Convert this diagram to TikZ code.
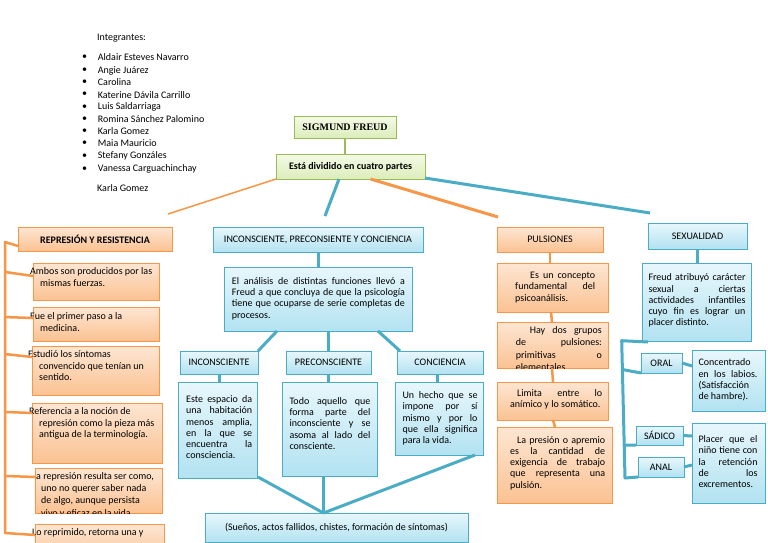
\documentclass[tikz,border=0pt]{standalone}
\usepackage{fontspec}
\setmainfont{Carlito}
\newfontfamily\titleserif{Liberation Serif}
\usetikzlibrary{calc}
\definecolor{oB}{HTML}{F79646}
\definecolor{oT}{HTML}{FDE6D3}
\definecolor{oBt}{HTML}{FBC292}
\definecolor{bB}{HTML}{4BACC6}
\definecolor{bT}{HTML}{E8F7FC}
\definecolor{bBt}{HTML}{B2E2F1}
\definecolor{gB}{HTML}{9BBB59}
\definecolor{gT}{HTML}{F4FAE6}
\definecolor{gBt}{HTML}{DCEDBB}
\newcommand\fs{\fontsize{10}{11.3}\selectfont}
\newcommand\fsl{\fontsize{10}{11.6}\selectfont}
\newcommand\fsw{\fontsize{10}{12.2}\selectfont}
\tikzset{
  base/.style={inner sep=0pt, outer sep=0pt, anchor=north west, line width=1pt, font=\fs},
  obox/.style={base, draw=oB, top color=oT, bottom color=oBt},
  bbox/.style={base, draw=bB, top color=bT, bottom color=bBt},
  gbox/.style={base, draw=gB, top color=gT, bottom color=gBt},
  ptxt/.style={inner sep=0pt, anchor=north west, align=justify, font=\fs},
  ltxt/.style={inner sep=0pt, anchor=north west, align=left, font=\fsl},
  lbl/.style={inner sep=0pt, anchor=west, font=\fs},
  bcon/.style={draw=bB, line width=3pt},
  ocon/.style={draw=oB, line width=2.5pt, line join=round},
  gcon/.style={draw=gB, line width=1.5pt},
}
\begin{document}
\begin{tikzpicture}[x=1pt, y=-1pt]
\clip (0,0) rectangle (768,543);
\fill[white] (0,0) rectangle (768,543);

% ---------- team list ----------
\node[lbl] (integ) at (97,38.3) {Integrantes:};
\foreach \n/\yy/\name in {1/57.3/Aldair Esteves Navarro, 2/70.5/Angie Juárez, 3/82.3/Carolina,
  4/94.7/Katerine Dávila Carrillo, 5/107/Luis Saldarriaga, 6/119/Romina Sánchez Palomino,
  7/131.3/Karla Gomez, 8/143.3/Maia Mauricio, 9/156.3/Stefany Gonzáles, 10/169/Vanessa Carguachinchay}{
  \node[inner sep=0pt, font=\fs] (b\n) at (84.5,\yy) {\textbullet};
  \node[lbl] (m\n) at (97.7,\yy) {\name};
}
\node[lbl] (karla) at (97,187.7) {Karla Gomez};

% ---------- top ----------
\node[gbox, minimum width=102pt, minimum height=22pt, font=\titleserif\bfseries\fontsize{10}{12}\selectfont] (sf) at (294,116) {SIGMUND FREUD};
\node[gbox, minimum width=149pt, minimum height=25pt, font=\fs\bfseries] (esta) at (276,154) {Está dividido en cuatro partes};
\draw[gcon] (sf.south) -- (sf.south |- esta.north);

\coordinate (e1) at (168,214);
\coordinate (e2) at (325,216);
\coordinate (e3) at (498,217);
\coordinate (e4) at (650,213);
\draw[draw=oB, line width=1.5pt] (esta.south west) -- (e1);
\draw[bcon] ($(esta.south)+(-11.5,0)$) -- (e2);
\draw[draw=oB, line width=3pt] ($(esta.south)+(20,0)$) -- (e3);
\draw[bcon] ($(esta.south east)+(0,-1)$) -- (e4);

% ---------- left: represion ----------
\node[obox, minimum width=154pt, minimum height=24pt, font=\fs\bfseries] (rep) at (18,227) {REPRESIÓN Y RESISTENCIA};
\node[obox, minimum width=126pt, minimum height=37pt] (ambos) at (33,263) {};
\node[obox, minimum width=126pt, minimum height=34pt] (fue) at (33,307) {};
\node[obox, minimum width=127pt, minimum height=49pt] (estudio) at (32,346) {};
\node[obox, minimum width=130pt, minimum height=60pt] (refer) at (32,403) {};
\node[obox, minimum width=127pt, minimum height=45pt] (arep) at (35,468) {};
\node[obox, minimum width=129pt, minimum height=40pt] (reprim) at (35,524) {};

\node[ltxt] (ambosT) at (30,267.3) {Ambos son producidos por las\\\hspace*{10pt}mismas fuerzas.};
\node[ltxt] (fueT) at (30,312.3) {Fue el primer paso a la\\\hspace*{10pt}medicina.};
\node[ltxt] (estudioT) at (28,350.3) {Estudió los síntomas\\\hspace*{11pt}convencido que tenían un\\\hspace*{11pt}sentido.};
\node[ltxt] (referT) at (29,407.3) {Referencia a la noción de\\\hspace*{10pt}represión como la pieza más\\\hspace*{10pt}antigua de la terminología.};
\begin{scope}
\clip (arep.north west) rectangle (arep.south east);
\node[ltxt, font=\fsw] (arepT) at (36,472.3) {a represión resulta ser como,\\\hspace*{5pt}uno no querer saber nada\\\hspace*{5pt}de algo, aunque persista\\\hspace*{5pt}vivo y eficaz en la vida.};
\end{scope}
\node[ltxt] (reprimT) at (32,528.3) {Lo reprimido, retorna una y};

\coordinate (lt) at (5,242);
\coordinate (lb) at (5,533);
\draw[ocon] ($(rep.south west)+(0,-5)$) -- (lt) -- (lb) -- ($(reprim.north west)+(0,11)$);
\draw[ocon] ($(lt)!0.103!(lb)$) -- ($(ambos.north west)+(0,13)$);
\draw[ocon] ($(lt)!0.258!(lb)$) -- ($(fue.north west)+(0,11)$);
\draw[ocon] ($(lt)!0.385!(lb)$) -- ($(estudio.north west)+(0,11)$);
\draw[ocon] ($(lt)!0.584!(lb)$) -- ($(refer.north west)+(0,10)$);
\draw[ocon] ($(lt)!0.804!(lb)$) -- ($(arep.north west)+(0,9)$);

% ---------- middle ----------
\node[bbox, minimum width=210pt, minimum height=25pt] (icpc) at (213,227) {INCONSCIENTE, PRECONSIENTE Y CONCIENCIA};
\node[bbox, minimum width=188pt, minimum height=64pt] (analisis) at (224,267) {};
\node[ptxt, text width=173pt] (analisisT) at (231.7,277) {El análisis de distintas funciones llevó a\linebreak Freud a que concluya de que la psicología\linebreak tiene que ocuparse de serie completas de\linebreak procesos.};
\node[bbox, minimum width=78pt, minimum height=23pt] (inc) at (180,351) {INCONSCIENTE};
\node[bbox, minimum width=85pt, minimum height=23pt] (pre) at (286,351) {PRECONSCIENTE};
\node[bbox, minimum width=86pt, minimum height=23pt] (con) at (397,351) {CONCIENCIA};
\node[bbox, minimum width=79pt, minimum height=96pt] (inct) at (178,382) {};
\node[bbox, minimum width=95pt, minimum height=94pt] (pret) at (282,382) {};
\node[bbox, minimum width=88pt, minimum height=73pt] (cont) at (395,382) {};
\node[ptxt, text width=66pt] (inctT) at (186,395.3) {Este espacio da\linebreak una habitación\linebreak menos amplia,\linebreak en la que se\linebreak encuentra la\linebreak consciencia.};
\node[ptxt, text width=81pt] (pretT) at (289.3,397) {Todo aquello que\linebreak forma parte del\linebreak inconsciente y se\linebreak asoma al lado del\linebreak consciente.};
\node[ptxt, text width=75pt] (contT) at (402.3,391.3) {Un hecho que se\linebreak impone por sí\linebreak mismo y por lo\linebreak que ella significa\linebreak para la vida.};
\node[bbox, minimum width=263pt, minimum height=29pt] (suenos) at (205,513) {(Sueños, actos fallidos, chistes, formación de síntomas)};

\draw[bcon] (icpc.south) -- (analisis.north);
\draw[bcon] ($(analisis.south west)+(53,0)$) -- (inc.north east);
\draw[bcon] (pre.north |- analisis.south) -- (pre.north);
\draw[bcon] ($(analisis.south east)+(-34,0)$) -- ($(con.north west)+(3,0)$);
\draw[bcon] (inc.south) -- (inc.south |- inct.north);
\draw[bcon] (pre.south) -- (pre.south |- pret.north);
\draw[bcon] ($(con.south)+(-3,0)$) -- ($(con.south |- cont.north)+(-3,0)$);
\coordinate (sj) at ($(suenos.north)+(-13,0)$);
\draw[bcon] ($(inct.south east)+(1,-1)$) -- (sj);
\draw[bcon] ($(pret.south)+(-6,0)$) -- (sj);
\draw[bcon] ($(cont.south east)+(-8,0)$) -- (sj);

% ---------- pulsiones ----------
\node[obox, minimum width=106pt, minimum height=25pt] (pul) at (497,227) {PULSIONES};
\node[obox, minimum width=111pt, minimum height=49pt] (es) at (497,263) {};
\node[obox, minimum width=111pt, minimum height=46pt] (hay) at (497,322) {};
\node[obox, minimum width=111pt, minimum height=38pt] (lim) at (497,382) {};
\node[obox, minimum width=115pt, minimum height=76pt] (pres) at (497,427) {};
\node[ptxt, text width=80pt] (esT) at (515,272) {\hspace*{15pt}Es un concepto\linebreak fundamental del\linebreak psicoanálisis.};
\begin{scope}
\clip (hay.north west) rectangle (hay.south east);
\node[ptxt, text width=86pt, font=\fsw] (hayT) at (515.7,326.5) {\hspace*{14pt}Hay dos grupos\linebreak de pulsiones:\linebreak primitivas o\linebreak elementales};
\end{scope}
\node[ptxt, text width=92pt] (limT) at (510,389.3) {\hspace*{7pt}Limita entre lo\linebreak anímico y lo somático.};
\node[ptxt, text width=95pt] (presT) at (510,436) {\hspace*{7pt}La presión o apremio\linebreak es la cantidad de\linebreak exigencia de trabajo\linebreak que representa una\linebreak pulsión.};
\draw[ocon] (pul.south) -- (pul.south |- es.north);
\draw[ocon] ($(pul.south |- es.south)+(1,0)$) -- ($(pul.south |- hay.north)+(2,0)$);
\draw[ocon] ($(pul.south |- hay.south)+(2,0)$) -- ($(pul.south |- lim.north)+(3,0)$);
\draw[ocon] ($(pul.south |- lim.south)+(3,0)$) -- ($(pul.south |- pres.north)+(5,0)$);

% ---------- sexualidad ----------
\node[bbox, minimum width=99pt, minimum height=26pt] (sex) at (648,223) {SEXUALIDAD};
\node[bbox, minimum width=109pt, minimum height=78pt] (freud) at (642,263) {};
\node[ptxt, text width=97pt] (freudT) at (648.3,273.6) {Freud atribuyó carácter\linebreak sexual a ciertas\linebreak actividades infantiles\linebreak cuyo fin es lograr un\linebreak placer distinto.};
\node[bbox, minimum width=41pt, minimum height=20pt] (oral) at (641,353) {ORAL};
\node[bbox, minimum width=47pt, minimum height=19pt] (sad) at (636,426) {SÁDICO};
\node[bbox, minimum width=46pt, minimum height=20pt] (anal) at (638,457) {ANAL};
\node[bbox, minimum width=73pt, minimum height=61pt] (conc) at (692,350) {};
\node[bbox, minimum width=73pt, minimum height=80pt] (placer) at (692,423) {};
\node[ptxt, text width=59pt] (concT) at (698.3,358.6) {Concentrado\linebreak en los labios.\linebreak (Satisfacción\linebreak de hambre).};
\node[ptxt, text width=59pt] (placerT) at (698.3,435.3) {Placer que el\linebreak niño tiene con\linebreak la retención\linebreak de los\linebreak excrementos.};

\draw[bcon] (sex.south) -- (sex.south |- freud.north);
\coordinate (bt) at (621.7,340.7);
\coordinate (bb) at (625,478);
\draw[bcon, line join=round] ($(freud.south west)+(6,1)$) -- (bt) -- (bb) -- (anal.south west);
\draw[bcon] ($(bt)!0.21!(bb)$) -- (oral.south west);
\draw[bcon] ($(bt)!0.76!(bb)$) -- (sad.south west);
\draw[bcon] (oral.east) -- ($(conc.north west)+(0,16)$);
\draw[bcon] (sad.east) -- ($(placer.north west)+(0,13)$);
\draw[bcon] (anal.east) -- ($(placer.north west)+(0,42)$);
\end{tikzpicture}
\end{document}
